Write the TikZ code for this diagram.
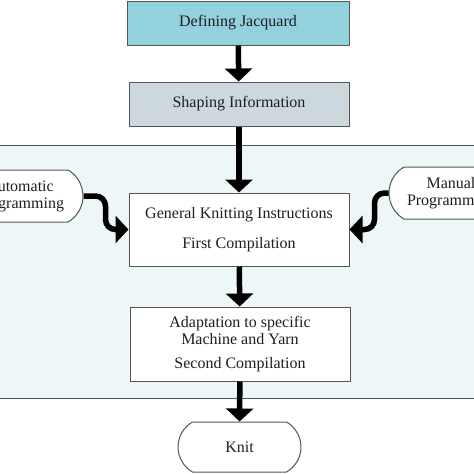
\documentclass[tikz,border=0pt]{standalone}
\usepackage{fontspec}
\setmainfont{Liberation Serif}
\usetikzlibrary{arrows.meta,shapes.misc}
\definecolor{jacqfill}{HTML}{93D1DC}
\definecolor{shapefill}{HTML}{CDD8DE}
\definecolor{panelfill}{HTML}{EDF7F7}
\definecolor{boxline}{HTML}{555555}
\definecolor{txt}{HTML}{1E1E1E}
\begin{document}
\begin{tikzpicture}[x=1pt,y=-1pt,
    box/.style={draw=boxline, line width=1pt, align=center, text=txt,
      font=\fontsize{16}{17}\selectfont, inner sep=2pt},
    term/.style={box, fill=white, rounded rectangle,
      rounded rectangle arc length=120},
    flow/.style={line width=5.5pt, -{Triangle[width=27pt,length=13pt]}}]
      \useasboundingbox (0,0) rectangle (474,474);
      \clip (0,0) rectangle (474,474);
      %
      \fill[panelfill] (0,145) rectangle (474,398);
      \draw[boxline, line width=1pt] (0,145) -- (474,145);
      \draw[boxline, line width=1pt] (0,398) -- (474,398);
      %
      \node[box, fill=jacqfill, minimum width=222pt, minimum height=44pt] (jacq) at (238,23) {Defining Jacquard};
      \node[box, fill=shapefill, minimum width=220pt, minimum height=44pt] (shaping) at (239,104) {Shaping Information};
      \node[box, fill=white, minimum width=220pt, minimum height=73pt] (general) at (239,229.5)
        {General Knitting Instructions\\[13pt]First Compilation};
      \node[box, fill=white, minimum width=220pt, minimum height=74pt] (adapt) at (240,344)
        {Adaptation to specific\\Machine and Yarn\\[7pt]Second Compilation};
      \node[term, minimum width=127pt, minimum height=50pt] (knit) at (239.5,447) {Knit};
      %
      \node[term, minimum width=130pt, minimum height=52pt] (auto) at (20,196) {Automatic\\Programming};
      \node[term, minimum width=128pt, minimum height=52pt] (manual) at (451,193) {Manual\\Programming};
      %
      \draw[flow] (jacq) -- (shaping);
      \draw[flow] (shaping) -- (general);
      \draw[flow] (general) -- (adapt);
      \draw[flow] (adapt) -- (knit);
      %
      \draw[flow, rounded corners=10pt] (auto.east) -- ++(22,0) |- (general.west);
      \draw[flow, rounded corners=10pt] (manual.west) -- ++(-14,0) |- (general.east);
    \end{tikzpicture}
\end{document}
